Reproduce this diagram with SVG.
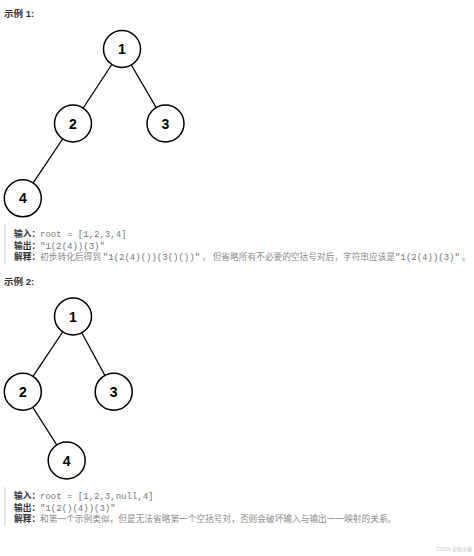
<svg xmlns="http://www.w3.org/2000/svg" width="474" height="556" viewBox="0 0 474 556">
<style>
.node circle{fill:#fff;stroke:#000;stroke-width:1.5}
.node text{font-family:"Liberation Sans",Arial,sans-serif;font-weight:bold;font-size:14px;fill:#000;text-anchor:middle}
.edges line{stroke:#000;stroke-width:1.3}
.h{font-family:"Liberation Sans","Noto Sans CJK SC",sans-serif;font-weight:bold;font-size:9.5px;fill:#333}
.t{font-family:"Noto Sans CJK SC",sans-serif;font-size:8.7px;fill:#8a8a8a}
.lb{font-weight:bold;fill:#333}
.c{font-family:"Liberation Mono","DejaVu Sans Mono",monospace;font-size:9px;fill:#777}
.bar{fill:#e6e6e6}
.wm{font-family:"Liberation Sans","Noto Sans CJK SC",sans-serif;font-size:5px;fill:#c4c4c4}
</style>
<rect width="474" height="556" fill="#fff"/>
<text class="h" x="4" y="17">示例 1:</text>
<g class="edges">
<line x1="122" y1="49" x2="73" y2="123.5"/>
<line x1="122" y1="49" x2="165.5" y2="123.5"/>
<line x1="73" y1="123.5" x2="22.8" y2="198.3"/>
<line x1="73" y1="316.5" x2="22.8" y2="391.7"/>
<line x1="73" y1="316.5" x2="113.7" y2="391.7"/>
<line x1="22.8" y1="391.7" x2="66.7" y2="460.5"/>
</g>
<g id="n1a" class="node"><circle cx="122" cy="49" r="18.5"/><text x="122" y="54">1</text></g>
<g id="n2a" class="node"><circle cx="73" cy="123.5" r="18.5"/><text x="73" y="128.5">2</text></g>
<g id="n3a" class="node"><circle cx="165.5" cy="123.5" r="18.5"/><text x="165.5" y="128.5">3</text></g>
<g id="n4a" class="node"><circle cx="22.8" cy="198.3" r="18.5"/><text x="22.8" y="203.3">4</text></g>
<rect class="bar" x="4" y="224" width="2" height="40"/>
<text class="t" x="14" y="237"><tspan class="lb">输入：</tspan><tspan class="c">root = [1,2,3,4]</tspan></text>
<text class="t" x="14" y="248.5"><tspan class="lb">输出：</tspan><tspan class="c">"1(2(4))(3)"</tspan></text>
<text class="t" x="14" y="260"><tspan class="lb">解释：</tspan>初步转化后得到 <tspan class="c">"1(2(4)())(3()())"</tspan> ， 但省略所有不必要的空括号对后，字符串应该是<tspan class="c">"1(2(4))(3)"</tspan> 。</text>
<text class="h" x="4" y="285">示例 2:</text>
<g id="n1b" class="node"><circle cx="73" cy="316.5" r="18.5"/><text x="73" y="321.5">1</text></g>
<g id="n2b" class="node"><circle cx="22.8" cy="391.7" r="18.5"/><text x="22.8" y="396.7">2</text></g>
<g id="n3b" class="node"><circle cx="113.7" cy="391.7" r="18.5"/><text x="113.7" y="396.7">3</text></g>
<g id="n4b" class="node"><circle cx="66.7" cy="460.5" r="18.5"/><text x="66.7" y="465.5">4</text></g>
<rect class="bar" x="4" y="487" width="2" height="39"/>
<text class="t" x="14" y="499"><tspan class="lb">输入：</tspan><tspan class="c">root = [1,2,3,null,4]</tspan></text>
<text class="t" x="14" y="510.5"><tspan class="lb">输出：</tspan><tspan class="c">"1(2()(4))(3)"</tspan></text>
<text class="t" x="14" y="522"><tspan class="lb">解释：</tspan>和第一个示例类似，但是无法省略第一个空括号对，否则会破坏输入与输出一一映射的关系。</text>
<text class="wm" x="472" y="551" text-anchor="end">CSDN @程序猿</text>
</svg>
